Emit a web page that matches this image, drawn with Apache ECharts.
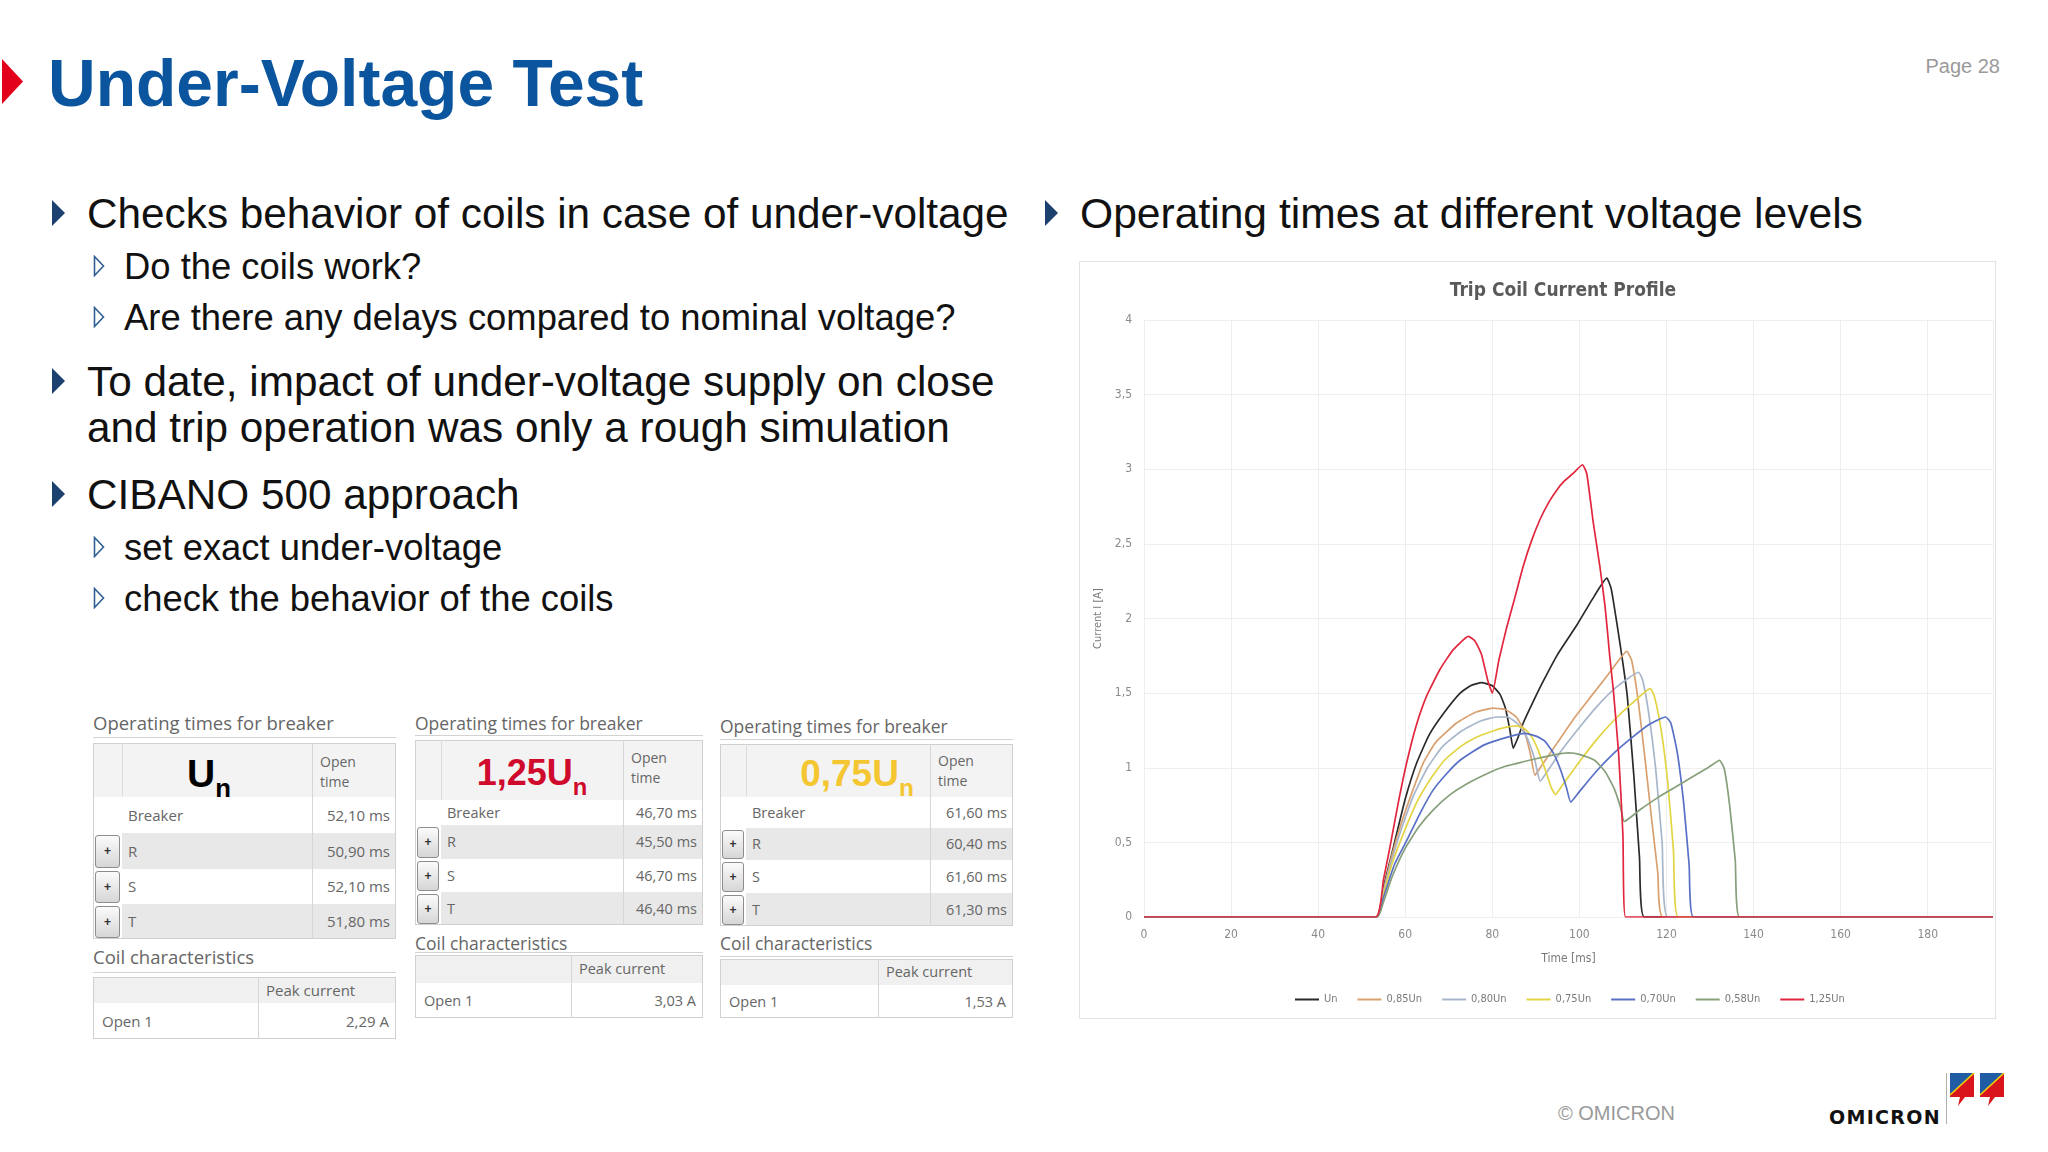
<!DOCTYPE html>
<html><head><meta charset="utf-8">
<script src="https://cdn.jsdelivr.net/npm/echarts@6/dist/echarts.min.js"></script>
<style>
html,body{margin:0;padding:0;background:#fff;}
#slide{position:relative;width:2048px;height:1152px;overflow:hidden;background:#fff;font-family:'Liberation Sans',Arial,sans-serif;color:#111;}
.a{position:absolute;white-space:nowrap;}
#chartBorder{position:absolute;left:1079px;top:261px;width:917px;height:758px;border:1px solid #e2e2e2;box-sizing:border-box;}
#chart{position:absolute;left:1079px;top:261px;width:917px;height:758px;}
</style></head><body>
<div id="slide"><div id="chartBorder"></div><div id="chart"></div></div>
<script>
// ---------------- DATA ----------------
const seriesNames = ['Un','0,85Un','0,80Un','0,75Un','0,70Un','0,58Un','1,25Un'];
const curveUn  = [[0,0],[53.3,0],[55,0.2],[57.3,0.47],[60,0.79],[62.6,1.03],[65.5,1.22],[68.7,1.36],[72.6,1.50],[75,1.55],[77.5,1.57],[80,1.55],[81.8,1.49],[83,1.40],[84,1.26],[84.8,1.13],[86,1.21],[87.1,1.30],[89.5,1.45],[91.7,1.58],[95,1.76],[99.5,1.96],[103,2.13],[106.3,2.27],[107.3,2.2],[108.6,1.97],[110,1.7],[111,1.48],[112.5,0.95],[113.8,0.4],[114.9,0],[195,0]];
const curve085 = [[0,0],[53.4,0],[55,0.18],[57,0.42],[59,0.62],[61.5,0.83],[64.1,1.03],[67,1.17],[71.8,1.30],[76,1.37],[80.2,1.40],[83,1.39],[85.5,1.34],[87.3,1.25],[88.7,1.10],[89.8,0.95],[91,1.0],[95,1.17],[99,1.34],[103,1.49],[107,1.64],[110.9,1.78],[112,1.72],[113.5,1.45],[115,1.08],[116.5,0.68],[118,0.3],[119.2,0],[195,0]];
const curve080 = [[0,0],[53.4,0],[55,0.17],[57,0.39],[59,0.58],[62,0.82],[65.1,1.0],[68.5,1.14],[72.6,1.24],[77,1.31],[81,1.34],[83.5,1.34],[86,1.29],[88,1.20],[89.7,1.06],[91,0.91],[92.5,0.97],[96,1.12],[100,1.27],[104,1.41],[108.5,1.54],[113.6,1.64],[114.6,1.58],[116,1.35],[117.5,1.0],[119,0.5],[120.3,0],[195,0]];
const curve075 = [[0,0],[53.5,0],[55,0.15],[57,0.36],[59.6,0.56],[62.5,0.76],[65.7,0.92],[69,1.05],[72.6,1.14],[76,1.20],[79.5,1.24],[83,1.27],[85.6,1.28],[87.5,1.26],[89,1.21],[90.5,1.12],[92,1.0],[93.5,0.87],[94.5,0.82],[96,0.88],[100,1.04],[104,1.19],[108,1.32],[112,1.43],[116.3,1.53],[117.3,1.47],[118.8,1.25],[120.3,0.9],[121.6,0.45],[122.7,0],[195,0]];
const curve070 = [[0,0],[53.5,0],[55,0.13],[57.5,0.35],[60.3,0.51],[63.5,0.70],[66.4,0.85],[69.5,0.96],[72.6,1.05],[77.9,1.15],[84.1,1.21],[87.5,1.23],[90.2,1.21],[92,1.18],[94,1.10],[95.5,1.0],[97,0.87],[98,0.77],[100,0.84],[104,0.98],[108,1.10],[112,1.20],[116,1.29],[119.8,1.34],[121,1.30],[122.5,1.1],[124,0.75],[125.2,0.35],[126.2,0],[195,0]];
const curve058 = [[0,0],[53.6,0],[55,0.1],[57,0.27],[59.8,0.45],[63,0.60],[66.5,0.72],[70.3,0.82],[74,0.89],[79.5,0.97],[83,1.01],[87.1,1.04],[90,1.06],[94.8,1.09],[97.5,1.10],[100,1.09],[103.5,1.05],[106,0.97],[108,0.86],[109.5,0.73],[110.3,0.64],[114,0.72],[118,0.80],[122,0.87],[126,0.94],[129.5,1.0],[132.2,1.05],[133.3,0.99],[134.5,0.75],[135.8,0.38],[136.8,0],[195,0]];
const curve125 = [[0,0],[53.2,0],[55,0.25],[56.5,0.47],[58.5,0.78],[60.3,1.03],[62.5,1.28],[64.9,1.48],[68,1.66],[71,1.79],[74.5,1.88],[76,1.85],[77.5,1.76],[79,1.58],[80,1.50],[81.5,1.72],[83.3,1.94],[85,2.12],[87.1,2.35],[89,2.52],[90.9,2.66],[93,2.78],[94.8,2.86],[96.5,2.92],[98.5,2.97],[100.7,3.03],[101.7,2.97],[103.2,2.64],[104.7,2.35],[105.9,2.08],[107,1.74],[107.8,1.52],[109,1.1],[110,0.55],[110.6,0],[195,0]];

const rowNames = ['Breaker','R','S','T'];
const openTimesUn  = ['52,10 ms','50,90 ms','52,10 ms','51,80 ms'];
const openTimes125 = ['46,70 ms','45,50 ms','46,70 ms','46,40 ms'];
const openTimes075 = ['61,60 ms','60,40 ms','61,60 ms','61,30 ms'];
const peakCurrents = ['2,29 A','3,03 A','1,53 A'];
const panelLabels  = [['U','n'],['1,25U','n'],['0,75U','n']];

// ---------------- SLIDE TEXT ----------------
const slide = document.getElementById('slide');
function txt(s, x, cy, fs, o={}){
  const h = Math.round(fs*1.4);
  const e = document.createElement('div');
  e.className='a';
  e.style.top=(cy-h/2)+'px'; e.style.height=h+'px'; e.style.lineHeight=h+'px';
  e.style.fontSize=fs+'px';
  if(o.align==='right'){ e.style.right=(2048-x)+'px'; }
  else if(o.align==='center'){ e.style.left=x+'px'; e.style.transform='translateX(-50%)'; }
  else e.style.left=x+'px';
  if(o.color) e.style.color=o.color;
  if(o.font) e.style.fontFamily=o.font;
  if(o.weight) e.style.fontWeight=o.weight;
  if(o.ls) e.style.letterSpacing=o.ls;
  e.innerHTML=s; slide.appendChild(e); return e;
}
function box(x,y,w,h,st){
  const e=document.createElement('div'); e.className='a';
  Object.assign(e.style,{left:x+'px',top:y+'px',width:w+'px',height:h+'px'},st||{});
  slide.appendChild(e); return e;
}
function svg(x,y,w,h,inner){
  const e=document.createElement('div'); e.className='a';
  e.style.left=x+'px'; e.style.top=y+'px';
  e.innerHTML='<svg width="'+w+'" height="'+h+'" viewBox="0 0 '+w+' '+h+'">'+inner+'</svg>';
  slide.appendChild(e); return e;
}
// title
svg(0,57,26,50,'<polygon points="2,2 23,24.5 2,47" fill="#e2001a"/>');
txt('Under-Voltage Test',48,83,66,{weight:'bold',color:'#0b559f'});
txt('Page 28',2000,66,20,{align:'right',color:'#9a9a9a'});

const BUL='#1d416f';
function bul1(x,cy){ svg(x,cy-13,14,26,'<polygon points="0,0 13,13 0,26" fill="'+BUL+'"/>'); }
function bul2(x,cy){ svg(x,cy-11,13,22,'<polygon points="1.5,1.5 10.5,11 1.5,20.5" fill="none" stroke="#2f5f95" stroke-width="1.6"/>'); }
const F1=42.3, F2=36.4;
bul1(52,213); txt('Checks behavior of coils in case of under-voltage',87,213,F1);
bul2(93,266); txt('Do the coils work?',124,266,F2);
bul2(93,317); txt('Are there any delays compared to nominal voltage?',124,317,F2);
bul1(52,381); txt('To date, impact of under-voltage supply on close',87,381,F1);
txt('and trip operation was only a rough simulation',87,427,F1);
bul1(52,494); txt('CIBANO 500 approach',87,494,F1);
bul2(93,547); txt('set exact under-voltage',124,547,F2);
bul2(93,598); txt('check the behavior of the coils',124,598,F2);
bul1(1045,213); txt('Operating times at different voltage levels',1080,213,42.6);

// footer
txt('&copy; OMICRON',1558,1113,20,{color:'#9a9a9a'});
txt('OMICRON',1829,1117,19,{font:"'DejaVu Sans',sans-serif",weight:'900',ls:'1.3px',color:'#111'});
box(1946,1073,1,51,{background:'#b0b0b0'});
const mark='<polygon points="0,0 24,0 0,22" fill="#1f5ca4"/><polygon points="24,0 24,24 15,24 8,33 10,24 0,24 0,22" fill="#d9141d"/><line x1="0" y1="22" x2="24" y2="0" stroke="#f2d200" stroke-width="1.6"/>';
svg(1950,1073,26,35,mark); svg(1980,1073,26,35,mark);

// ---------------- TABLE PANELS ----------------
const TF="'Open Sans','Liberation Sans',sans-serif", TC='#666';
function button(x,y,w,h){
  const b=box(x,y,w,h,{border:'1px solid #8d8d8d',borderRadius:'3px',boxSizing:'border-box',background:'linear-gradient(#fbfbfb,#d6d6d6)',textAlign:'center',lineHeight:(h-2)+'px',fontSize:'12px',fontWeight:'bold',color:'#333'});
  b.textContent='+';
}
function panel(p, times, peak, lab){
  txt('Operating times for breaker',p.x0,p.hdrY,p.fh,{font:TF,color:TC});
  box(p.x0,p.lineY,p.x1-p.x0,1,{background:'#d2d2d2'});
  box(p.x0,p.tTop,p.x1-p.x0,p.hBot-p.tTop,{background:'#f3f3f3'});
  const tops=[p.hBot,p.rows[0],p.rows[1],p.rows[2]];
  for(let i=0;i<4;i++){
    const y0=tops[i], y1=p.rows[i], cy=(y0+y1)/2;
    if(i%2===1) box(p.c1,y0,p.x1-p.c1,y1-y0,{background:'#e8e8e8'});
    txt(rowNames[i],p.c1+6,cy,p.fr,{font:TF,color:TC});
    txt(times[i],p.x1-6,cy,p.fr,{font:TF,color:TC,align:'right'});
    if(i>0) button(p.x0+2,y0+2,p.c1-p.x0-4,y1-y0-3);
  }
  box(p.x0,p.tTop,p.x1-p.x0,p.rows[3]-p.tTop,{border:'1px solid #d0d0d0',boxSizing:'border-box'});
  box(p.c3,p.tTop,1,p.rows[3]-p.tTop,{background:'#d6d6d6'});
  box(p.c1,p.tTop,1,p.hBot-p.tTop,{background:'#dcdcdc'});
  txt('<span>'+lab[0]+'</span><span style="font-size:0.66em;position:relative;top:0.42em">'+lab[1]+'</span>',
      p.lx,(p.tTop+p.hBot)/2+3,p.lfs,{weight:'bold',color:p.lcol,align:'center'});
  txt('Open',p.c3+8,p.oy[0],14,{font:TF,color:TC});
  txt('time',p.c3+8,p.oy[1],14,{font:TF,color:TC});
  txt('Coil characteristics',p.x0,p.coilY,p.fh,{font:TF,color:TC});
  box(p.x0,p.coilLineY,p.x1-p.x0,1,{background:'#d2d2d2'});
  box(p.x0,p.t2Top,p.x1-p.x0,p.t2H-p.t2Top,{background:'#f0f0f0'});
  box(p.x0,p.t2Top,p.x1-p.x0,p.t2B-p.t2Top,{border:'1px solid #d0d0d0',boxSizing:'border-box'});
  box(p.t2Div,p.t2Top,1,p.t2B-p.t2Top,{background:'#d6d6d6'});
  txt('Peak current',p.t2Div+8,(p.t2Top+p.t2H)/2,p.fr,{font:TF,color:TC});
  txt('Open 1',p.x0+9,(p.t2H+p.t2B)/2,p.fr,{font:TF,color:TC});
  txt(peak,p.x1-7,(p.t2H+p.t2B)/2,p.fr,{font:TF,color:TC,align:'right'});
}
panel({x0:93,x1:396,hdrY:723,fh:18.5,fr:15,lineY:737,tTop:743,hBot:797,rows:[833,869,904,939],c1:122,c3:312,
  lx:209,lfs:39,lcol:'#000',oy:[762,782],coilY:957,coilLineY:972,t2Top:977,t2H:1003,t2B:1039,t2Div:258},
  openTimesUn,peakCurrents[0],panelLabels[0]);
panel({x0:415,x1:703,hdrY:723,fh:17.5,fr:14.5,lineY:735,tTop:740,hBot:800,rows:[825,859,892,925],c1:441,c3:623,
  lx:532,lfs:36,lcol:'#cf0a2c',oy:[758,778],coilY:943,coilLineY:952,t2Top:955,t2H:983,t2B:1018,t2Div:571},
  openTimes125,peakCurrents[1],panelLabels[1]);
panel({x0:720,x1:1013,hdrY:726,fh:17.5,fr:14.5,lineY:739,tTop:744,hBot:797,rows:[828,860,893,926],c1:746,c3:930,
  lx:857,lfs:37,lcol:'#f4c631',oy:[761,781],coilY:943,coilLineY:956,t2Top:959,t2H:985,t2B:1018,t2Div:878},
  openTimes075,peakCurrents[2],panelLabels[2]);

// ---------------- CHART ----------------
const curves = [curveUn,curve085,curve080,curve075,curve070,curve058,curve125];
const colors = ['#2a2a2a','#d9a070','#a7b6ca','#e2d443','#5870c6','#879f7a','#e1263e'];
const CF = "'Liberation Sans Narrow','DejaVu Sans Condensed','Liberation Sans',sans-serif";
const chart = echarts.init(document.getElementById('chart'));
chart.setOption({
  animation:false,
  textStyle:{fontFamily:CF},
  title:{text:'Trip Coil Current Profile',left:479,top:16,textAlign:'center',
    textStyle:{fontFamily:CF,fontSize:19,fontWeight:'bold',color:'#5a5a5a'}},
  grid:{left:65,right:3,top:59,bottom:102},
  legend:{left:211,top:728,icon:'rect',itemWidth:24,itemHeight:2,itemGap:20,
    textStyle:{fontFamily:CF,fontSize:11,color:'#7a7a7a'},data:seriesNames},
  xAxis:{type:'value',min:0,max:195,interval:20,
    name:'Time [ms]',nameLocation:'middle',nameGap:36,
    nameTextStyle:{fontFamily:CF,fontSize:12,color:'#7a7a7a'},
    axisLine:{show:false},axisTick:{show:false},
    axisLabel:{showMaxLabel:false,margin:12,fontFamily:CF,fontSize:12,color:'#8a8a8a'},
    splitLine:{show:true,lineStyle:{color:'#eeeeee',width:1}}},
  yAxis:{type:'value',min:0,max:4,interval:0.5,
    name:'Current I [A]',nameLocation:'middle',nameGap:30,
    nameTextStyle:{fontFamily:CF,fontSize:11,color:'#7a7a7a'},
    axisLine:{show:false},axisTick:{show:false},
    axisLabel:{margin:12,fontFamily:CF,fontSize:12,color:'#8a8a8a',formatter:v=>String(v).replace('.',',')},
    splitLine:{show:true,lineStyle:{color:'#eeeeee',width:1}}},
  series: curves.map((d,i)=>({
    name:seriesNames[i],type:'line',data:d,showSymbol:false,symbol:'none',smooth:0.15,
    lineStyle:{color:colors[i],width:1.7},itemStyle:{color:colors[i]},z:2+i
  }))
});
</script>
</body></html>
